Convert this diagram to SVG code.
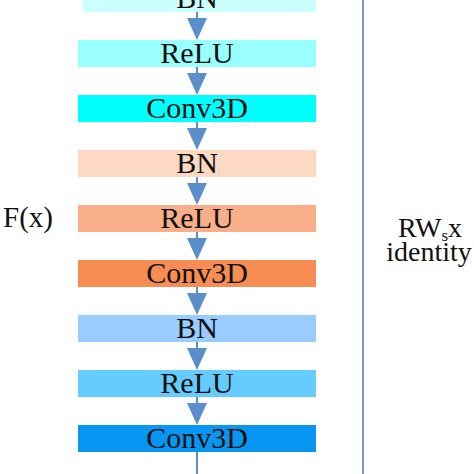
<svg xmlns="http://www.w3.org/2000/svg" width="474" height="474" viewBox="0 0 474 474">
<defs>
<style>
.box{stroke:none}
.lbl{font-family:"Liberation Serif","Times New Roman",serif;font-size:30px;fill:#111;text-anchor:middle}
.side{font-family:"Liberation Serif","Times New Roman",serif;font-size:28px;fill:#111}
.shaft{stroke:#5b8fcc;stroke-width:2;fill:none}
.head{fill:#5b8fcc}
</style>
</defs>
<rect width="474" height="474" fill="#ffffff"/>
<g id="connectors">
<line class="shaft" x1="197" y1="12" x2="197" y2="20"/><polygon class="head" points="187,18 207,18 197,40"/>
<line class="shaft" x1="197" y1="67" x2="197" y2="75"/><polygon class="head" points="187,73 207,73 197,95"/>
<line class="shaft" x1="197" y1="122" x2="197" y2="130"/><polygon class="head" points="187,128 207,128 197,150"/>
<line class="shaft" x1="197" y1="177" x2="197" y2="185"/><polygon class="head" points="187,183 207,183 197,205"/>
<line class="shaft" x1="197" y1="232" x2="197" y2="240"/><polygon class="head" points="187,238 207,238 197,260"/>
<line class="shaft" x1="197" y1="287" x2="197" y2="295"/><polygon class="head" points="187,293 207,293 197,315"/>
<line class="shaft" x1="197" y1="342" x2="197" y2="350"/><polygon class="head" points="187,348 207,348 197,370"/>
<line class="shaft" x1="197" y1="397" x2="197" y2="405"/><polygon class="head" points="187,403 207,403 197,425"/>
<line class="shaft" x1="197" y1="452" x2="197" y2="474"/>
<line x1="363" y1="0" x2="363" y2="474" stroke="#7b97bf" stroke-width="2"/>
</g>
<g id="bn1"><rect class="box" x="83" y="-15" width="233" height="27" fill="#ccffff"/><text class="lbl" x="197" y="8">BN</text></g>
<g id="relu1"><rect class="box" x="78" y="40" width="238" height="27" fill="#99ffff"/><text class="lbl" x="197" y="62.5">ReLU</text></g>
<g id="conv1"><rect class="box" x="78" y="95" width="238" height="27" fill="#00ffff"/><text class="lbl" x="197" y="117.5">Conv3D</text></g>
<g id="bn2"><rect class="box" x="78" y="150" width="238" height="27" fill="#fdd9c4"/><text class="lbl" x="197" y="172.5">BN</text></g>
<g id="relu2"><rect class="box" x="78" y="205" width="238" height="27" fill="#f8ae88"/><text class="lbl" x="197" y="227.5">ReLU</text></g>
<g id="conv2"><rect class="box" x="78" y="260" width="238" height="27" fill="#f78d52"/><text class="lbl" x="197" y="282.5">Conv3D</text></g>
<g id="bn3"><rect class="box" x="78" y="315" width="238" height="27" fill="#99ccff"/><text class="lbl" x="197" y="337.5">BN</text></g>
<g id="relu3"><rect class="box" x="78" y="370" width="238" height="27" fill="#66ccff"/><text class="lbl" x="197" y="392.5">ReLU</text></g>
<g id="conv3"><rect class="box" x="78" y="425" width="238" height="27" fill="#0996f2"/><text class="lbl" x="197" y="447.5">Conv3D</text></g>
<g id="fx"><text class="side" x="3" y="227" style="font-size:29px">F(x)</text></g>
<g id="rwsx"><text class="side" x="430" y="237" text-anchor="middle">RW<tspan font-size="17" dy="4">s</tspan><tspan dy="-4">x</tspan></text><text class="side" x="429" y="261" text-anchor="middle">identity</text></g>
</svg>
